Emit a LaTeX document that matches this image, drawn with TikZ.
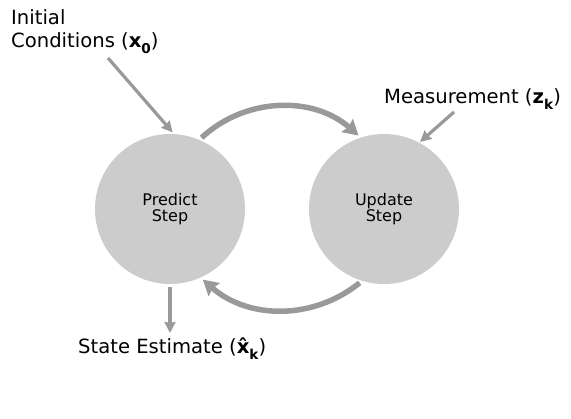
\documentclass[tikz,border=0pt]{standalone}
\usepackage{fontspec}
\setmainfont{DejaVu Sans}
\usetikzlibrary{arrows.meta}
\definecolor{arrowgray}{HTML}{999999}
\definecolor{circgray}{HTML}{CCCCCC}
\newcommand{\bsub}[2]{\textbf{#1}\raisebox{-0.28em}{\fontsize{13.6}{14}\selectfont\textbf{#2}}}
\begin{document}
\begin{tikzpicture}[x=1pt,y=1pt,
  state/.style={circle, fill=circgray, minimum size=150pt, inner sep=0pt, align=center, font=\fontsize{16}{15.5}\selectfont},
  lbl/.style={inner sep=0pt, font=\fontsize{19.6}{23}\selectfont, align=left},
  thinarrow/.style={draw=arrowgray, line width=3.2pt, -{Stealth[length=11pt,width=11pt,inset=1pt]}},
  thickarrow/.style={draw=arrowgray, line width=5.5pt, -{Stealth[length=15pt,width=17pt,inset=2pt]}},
]
\useasboundingbox (0,0) rectangle (571,-419);
\node[state] (P) at (170,-209) {Predict\\Step};
\node[state] (U) at (384,-209) {Update\\Step};
\node[lbl, anchor=base west] (init) at (11,-48) {Initial\\Conditions (\bsub{x}{0})};
\node[lbl, anchor=base west] (meas) at (384,-104) {Measurement (\bsub{z}{k})};
\node[lbl, anchor=base west] (est) at (78,-354) {State Estimate (\bsub{\^x}{k})};
\coordinate (ia) at (108,-58);
\coordinate (ma) at (454,-112);
\coordinate (se) at (170,-333);
\draw[thinarrow, shorten >=2pt] (ia) -- (P.87);
\draw[thinarrow, shorten >=1pt] (ma) -- (U.62);
\draw[thinarrow, shorten <=3pt] (P.south) -- (se);
\draw[thickarrow, shorten <=3pt, shorten >=3pt] (P.67) to[bend left=42] (U.108);
\draw[thickarrow, shorten <=3pt, shorten >=3pt] (U.253) to[bend left=40] (P.294);
\end{tikzpicture}
\end{document}
